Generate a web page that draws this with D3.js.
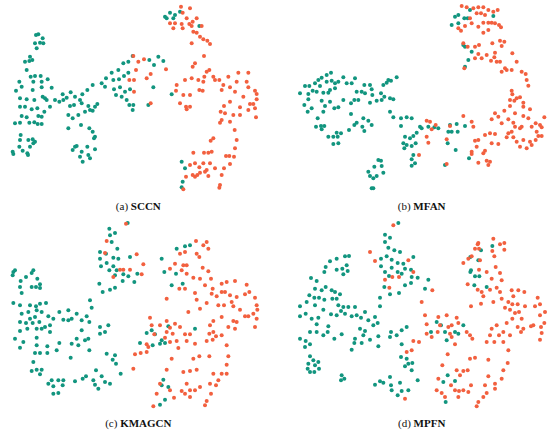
<!DOCTYPE html>
<html>
<head>
<meta charset="UTF-8">
<script src="https://cdn.jsdelivr.net/npm/d3@7"></script>
<style>body{margin:0;background:#fff}</style>
</head>
<body>
<script>
// point coordinates, in 825x650 units per panel
var aTeal = [[495,50],[510,38],[525,45],[540,35],[500,55],[520,55],[108,105],[115,103],[128,115],[105,130],[120,128],[130,130],[110,145],[90,170],[75,185],[88,183],[97,180],[80,210],[92,230],[105,228],[122,228],[100,245],[125,245],[143,238],[58,245],[65,260],[48,272],[98,270],[125,262],[155,263],[60,295],[80,298],[103,300],[128,290],[135,295],[140,300],[165,300],[178,305],[190,300],[150,320],[133,335],[60,320],[75,320],[95,328],[112,325],[65,348],[80,352],[115,348],[125,350],[45,370],[60,368],[88,368],[103,367],[113,372],[125,372],[188,283],[200,293],[212,277],[225,290],[240,300],[247,283],[262,270],[278,255],[210,318],[222,315],[245,310],[265,318],[278,332],[292,312],[285,320],[205,345],[218,355],[235,345],[255,335],[270,330],[205,385],[243,375],[268,385],[278,395],[285,410],[282,415],[62,405],[60,420],[85,420],[98,418],[105,425],[100,430],[58,440],[90,440],[68,452],[82,460],[84,465],[38,455],[40,462],[230,438],[225,440],[218,450],[245,455],[262,440],[285,448],[240,470],[265,465],[270,475],[248,485],[305,250],[318,235],[335,218],[355,210],[370,190],[385,185],[398,168],[340,240],[357,238],[372,228],[385,218],[315,260],[342,268],[360,262],[375,275],[390,268],[348,285],[365,290],[380,300],[388,315],[400,315],[398,330],[448,180],[462,195],[475,170],[490,183],[460,262],[445,315],[515,283],[545,485],[555,505],[548,545],[545,562],[598,78]];
var aOrange = [[543,20],[570,25],[548,38],[560,55],[590,55],[578,65],[510,70],[525,70],[545,72],[520,85],[548,85],[568,72],[575,78],[580,95],[605,78],[590,98],[600,110],[610,118],[622,122],[630,132],[575,130],[612,168],[585,190],[578,200],[628,210],[620,215],[613,230],[555,240],[575,235],[595,240],[610,245],[645,240],[640,230],[658,240],[685,230],[670,255],[690,262],[715,218],[745,218],[740,245],[665,270],[530,255],[528,272],[598,270],[608,272],[550,285],[570,285],[710,245],[705,275],[745,262],[765,272],[770,282],[770,298],[730,290],[750,312],[760,312],[720,322],[690,305],[672,318],[662,335],[675,340],[665,360],[660,368],[690,365],[700,345],[720,345],[765,325],[768,352],[745,330],[540,310],[558,320],[570,320],[560,328],[400,168],[415,185],[432,178],[408,210],[388,240],[402,240],[452,222],[440,235],[498,208],[402,275],[452,310],[704,390],[710,420],[705,445],[702,470],[688,468],[690,492],[672,505],[665,525],[660,555],[658,563],[640,415],[632,422],[612,458],[625,458],[580,458],[585,490],[570,495],[610,490],[630,490],[645,505],[620,510],[615,515],[600,518],[592,525],[585,530],[625,528],[598,502],[578,525],[558,530],[550,568],[635,455],[678,468]];
var bTeal = [[540,50],[550,45],[568,55],[578,55],[530,75],[550,70],[585,30],[655,48],[565,135],[570,140],[590,155],[580,180],[570,200],[75,280],[90,258],[103,258],[113,272],[100,282],[120,250],[130,240],[140,233],[155,225],[168,218],[155,245],[170,242],[180,250],[190,245],[205,232],[215,250],[230,250],[240,235],[135,258],[125,275],[145,278],[160,278],[165,270],[180,265],[100,298],[88,315],[110,325],[98,335],[140,302],[150,318],[145,335],[165,305],[178,325],[190,322],[205,300],[228,310],[238,300],[250,300],[245,275],[260,275],[270,280],[268,255],[285,255],[290,268],[292,285],[305,302],[285,308],[325,255],[335,248],[340,240],[348,242],[365,232],[318,280],[328,290],[345,295],[355,298],[320,300],[345,335],[355,352],[378,355],[395,352],[410,355],[378,378],[128,355],[123,380],[138,378],[148,378],[140,388],[228,342],[245,368],[238,375],[222,390],[265,355],[280,362],[290,375],[262,380],[268,393],[160,410],[175,410],[185,398],[198,400],[188,410],[175,432],[190,430],[310,480],[318,482],[298,500],[320,498],[325,518],[280,515],[285,528],[295,535],[305,528],[290,565],[295,565],[390,410],[405,415],[415,408],[425,398],[435,380],[440,385],[460,380],[478,382],[490,385],[385,430],[395,435],[410,438],[422,430],[388,445],[415,465],[410,478],[420,490],[410,497],[525,375],[545,372],[520,395],[518,430],[530,395],[548,395],[570,378],[542,450],[582,475],[510,495]];
var bOrange = [[560,18],[575,22],[595,25],[610,22],[625,22],[640,30],[655,35],[668,30],[605,40],[618,40],[630,45],[585,55],[590,70],[625,68],[640,68],[650,68],[660,70],[672,75],[678,82],[550,85],[558,92],[570,78],[610,80],[625,98],[640,90],[565,130],[578,140],[600,140],[612,135],[610,162],[600,175],[620,175],[635,165],[648,182],[658,172],[665,185],[675,185],[660,158],[652,130],[675,122],[680,138],[688,125],[712,160],[725,185],[710,210],[695,210],[680,215],[690,205],[740,215],[752,222],[755,240],[760,257],[568,205],[710,272],[712,283],[725,295],[735,292],[705,300],[718,302],[745,308],[705,318],[745,320],[765,328],[720,340],[688,332],[660,340],[670,350],[650,358],[680,370],[700,358],[715,368],[745,348],[760,355],[782,370],[795,375],[808,352],[800,382],[785,395],[770,380],[790,408],[800,408],[782,420],[765,425],[770,435],[740,380],[735,385],[720,380],[710,395],[700,400],[695,412],[715,412],[725,425],[745,420],[735,440],[755,445],[590,365],[595,380],[565,348],[525,378],[515,418],[600,422],[610,420],[630,405],[645,400],[660,402],[650,430],[670,432],[605,440],[625,460],[610,488],[635,482],[645,485],[640,495],[590,455],[590,462],[630,452],[515,492],[455,362],[465,365],[470,388],[482,375],[455,410],[460,428],[432,465]];
var cTeal = [[383,18],[328,35],[345,48],[330,55],[335,75],[352,95],[300,105],[318,110],[340,122],[355,125],[300,125],[320,138],[303,148],[328,160],[340,148],[350,160],[345,175],[370,172],[385,178],[368,192],[345,212],[330,218],[308,225],[298,200],[390,120],[412,170],[403,195],[485,125],[493,165],[528,170],[515,205],[548,200],[530,95],[555,88],[570,85],[40,165],[45,160],[38,175],[62,192],[78,180],[95,168],[100,160],[112,185],[95,210],[108,210],[120,202],[120,213],[60,210],[65,228],[40,258],[60,265],[90,265],[108,268],[120,260],[138,258],[125,285],[110,280],[65,290],[85,285],[105,300],[90,305],[60,315],[78,318],[98,318],[118,315],[145,298],[160,305],[178,285],[190,308],[205,310],[205,280],[215,305],[230,290],[245,310],[260,298],[268,315],[275,272],[270,250],[150,325],[135,330],[150,345],[125,335],[110,335],[82,335],[60,342],[45,365],[70,375],[60,392],[110,362],[110,385],[105,408],[120,408],[142,388],[142,408],[178,378],[170,400],[215,380],[212,422],[230,365],[235,385],[245,340],[255,370],[265,365],[268,400],[300,330],[325,325],[300,350],[315,345],[320,410],[345,415],[338,428],[348,440],[362,470],[100,435],[95,462],[110,458],[125,458],[120,472],[155,490],[145,500],[160,508],[175,490],[190,490],[188,505],[160,530],[175,528],[225,493],[248,485],[258,478],[288,460],[305,478],[280,490],[285,503],[295,515],[315,495],[330,500],[440,348],[455,340],[465,352],[485,370],[480,380],[495,378],[505,328],[420,378],[458,385],[585,335],[490,488],[485,505],[505,510],[495,548],[480,563]];
var cOrange = [[378,20],[320,72],[315,108],[340,180],[360,158],[370,158],[390,158],[410,112],[430,142],[425,172],[500,245],[510,155],[525,140],[550,145],[560,145],[545,160],[560,170],[580,182],[600,185],[608,152],[625,163],[633,185],[540,110],[555,105],[590,110],[598,120],[610,85],[620,75],[625,95],[588,72],[615,205],[638,215],[665,200],[680,195],[705,192],[740,203],[665,225],[635,230],[650,238],[675,225],[690,235],[710,240],[735,232],[748,225],[765,242],[770,265],[772,278],[760,290],[770,305],[765,330],[745,298],[735,298],[720,278],[700,268],[695,255],[672,265],[655,265],[620,258],[600,275],[590,248],[585,228],[565,285],[555,215],[538,215],[710,315],[700,312],[685,330],[665,300],[640,312],[630,325],[628,350],[640,345],[648,358],[665,355],[620,372],[638,368],[680,385],[705,335],[450,302],[455,325],[480,325],[500,312],[510,332],[525,320],[540,330],[500,345],[518,350],[495,362],[530,372],[555,352],[570,352],[585,380],[560,372],[535,393],[510,375],[463,352],[440,382],[445,390],[405,412],[422,408],[440,405],[400,455],[515,425],[500,458],[550,465],[570,462],[590,458],[580,425],[598,418],[628,418],[685,418],[680,443],[680,470],[665,470],[640,470],[655,490],[648,505],[630,500],[620,552],[615,565],[600,510],[585,520],[570,520],[560,500],[545,522],[555,530],[570,540],[522,542],[510,520],[480,500],[470,530],[460,568],[633,530]];
var dTeal = [[370,18],[330,53],[345,62],[330,75],[340,92],[358,100],[375,105],[335,118],[350,128],[318,125],[318,148],[350,152],[368,138],[385,140],[390,155],[380,170],[368,165],[330,165],[342,177],[408,158],[415,120],[410,180],[428,182],[390,205],[372,228],[345,232],[328,210],[315,242],[315,268],[408,198],[450,215],[460,188],[210,118],[222,117],[185,125],[165,133],[152,150],[185,158],[202,155],[215,145],[218,162],[205,172],[148,165],[108,183],[125,192],[120,215],[140,220],[152,210],[103,235],[118,242],[132,242],[148,248],[170,220],[180,225],[195,232],[172,245],[185,245],[95,255],[120,265],[75,268],[92,290],[75,298],[145,278],[190,265],[205,270],[220,270],[240,270],[168,292],[185,295],[198,282],[210,290],[230,298],[245,295],[258,302],[270,285],[300,300],[280,310],[295,325],[308,318],[130,302],[110,305],[125,322],[160,328],[105,345],[125,345],[145,355],[158,345],[200,352],[178,365],[255,335],[270,342],[265,355],[240,365],[238,378],[260,378],[285,368],[310,358],[230,398],[310,388],[348,345],[365,355],[380,340],[395,330],[345,360],[380,382],[75,365],[92,372],[105,382],[90,390],[105,418],[115,430],[130,435],[100,440],[120,445],[98,455],[105,465],[118,465],[132,455],[200,475],[208,485],[198,490],[300,503],[315,493],[325,497],[345,480],[348,505],[350,520],[375,497],[380,522],[400,520],[368,535],[428,490],[378,420],[395,425],[400,440],[412,438],[390,448],[410,460],[485,315],[498,325],[468,345],[510,345],[540,345],[550,350],[565,325],[515,370],[518,475],[540,492],[512,555],[505,495],[588,160],[586,165],[600,178],[613,178],[598,205],[635,210],[586,120],[610,130],[652,87],[618,100]];
var dOrange = [[355,25],[285,105],[300,132],[330,188],[352,180],[372,180],[400,130],[415,165],[343,212],[472,220],[440,255],[450,295],[455,322],[455,350],[470,360],[490,300],[515,295],[530,325],[545,302],[550,318],[520,330],[525,350],[488,345],[495,325],[530,360],[540,382],[575,345],[585,355],[592,365],[415,372],[432,375],[395,405],[410,400],[390,545],[608,82],[600,95],[612,95],[610,78],[655,65],[652,102],[658,118],[675,82],[688,78],[688,98],[565,138],[580,125],[590,118],[615,130],[612,158],[635,165],[650,185],[662,150],[675,168],[680,190],[578,202],[620,225],[625,238],[608,218],[645,218],[665,212],[675,225],[680,245],[655,255],[618,260],[588,268],[710,220],[730,220],[748,225],[715,238],[700,255],[712,262],[728,262],[690,272],[705,278],[720,288],[732,285],[750,268],[780,268],[788,242],[795,262],[810,285],[795,295],[808,318],[798,330],[775,325],[768,328],[740,305],[728,330],[712,305],[695,318],[685,345],[665,325],[650,335],[645,355],[635,375],[658,375],[672,355],[685,375],[705,355],[738,345],[745,335],[795,368],[800,348],[700,400],[698,438],[685,460],[680,485],[660,500],[660,515],[640,478],[630,505],[635,528],[625,540],[610,555],[605,568],[640,428],[600,422],[585,425],[578,460],[565,462],[545,460],[518,412],[502,445],[490,485],[485,520],[500,528],[510,540],[528,505],[540,520],[552,522],[565,520],[580,525],[588,505],[550,540],[555,475]];

var letters = ["(a)", "(b)", "(c)", "(d)"];
var models = ["SCCN", "MFAN", "KMAGCN", "MPFN"];

var panels = [
    {teal: aTeal, orange: aOrange, x0: 0, y0: 0},
    {teal: bTeal, orange: bOrange, x0: 275, y0: 0},
    {teal: cTeal, orange: cOrange, x0: 0, y0: 217},
    {teal: dTeal, orange: dOrange, x0: 275, y0: 217}
];

var svg = d3.select("body").append("svg")
    .attr("width", 550)
    .attr("height", 434);

panels.forEach(function (p, i) {
    var x = d3.scaleLinear().domain([0, 825]).range([p.x0, p.x0 + 275]);
    var y = d3.scaleLinear().domain([0, 650]).range([p.y0, p.y0 + 216.7]);
    var g = svg.append("g");

    [[p.teal, "#12957f"], [p.orange, "#f2603f"]].forEach(function (s) {
        g.selectAll(null)
            .data(s[0])
            .enter()
            .append("circle")
            .attr("cx", function (d) { return x(d[0]); })
            .attr("cy", function (d) { return y(d[1]); })
            .attr("r", 2)
            .attr("fill", s[1]);
    });

    var t = g.append("text")
        .attr("x", x(i % 2 ? 440 : 415))
        .attr("y", y(630))
        .attr("text-anchor", "middle")
        .attr("font-family", "Liberation Serif, serif")
        .attr("font-size", 11)
        .attr("fill", "#111");
    t.append("tspan").text(letters[i] + " ");
    t.append("tspan").attr("font-weight", "bold").text(models[i]);
});
</script>
</body>
</html>
